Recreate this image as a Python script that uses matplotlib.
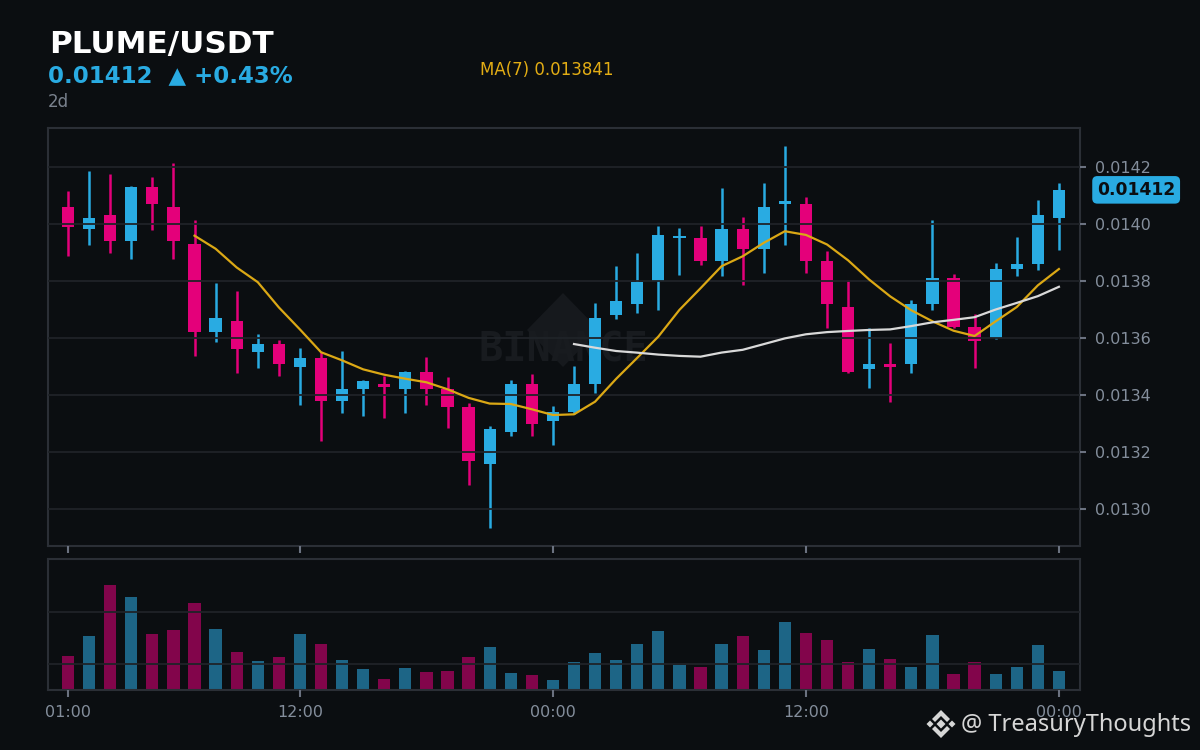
import numpy as np
import pandas as pd
import matplotlib
matplotlib.use("Agg")
from matplotlib import pyplot as plt
from matplotlib.patches import Polygon
import matplotlib.transforms as mtransforms

# hourly candles, 01:00 day 1 -> 00:00 day 3
opens = [0.014060, 0.013982, 0.014032, 0.013940, 0.014130, 0.014060, 0.013930, 0.013621,
         0.013660, 0.013551, 0.013579, 0.013499, 0.013530, 0.013380, 0.013422, 0.013439,
         0.013422, 0.013481, 0.013420, 0.013358, 0.013159, 0.013270, 0.013439, 0.013310,
         0.013341, 0.013440, 0.013681, 0.013720, 0.013801, 0.013950, 0.013951, 0.013871,
         0.013982, 0.013913, 0.014071, 0.014070, 0.013870, 0.013709, 0.013492, 0.013509,
         0.013510, 0.013720, 0.013811, 0.013639, 0.013600, 0.013843, 0.013861, 0.014022]
closes = [0.013991, 0.014021, 0.013940, 0.014130, 0.014071, 0.013940, 0.013621, 0.013670,
          0.013561, 0.013579, 0.013510, 0.013530, 0.013380, 0.013421, 0.013449, 0.013429,
          0.013481, 0.013422, 0.013359, 0.013168, 0.013281, 0.013439, 0.013299, 0.013340,
          0.013439, 0.013670, 0.013730, 0.013796, 0.013961, 0.013955, 0.013871, 0.013982,
          0.013913, 0.014060, 0.014081, 0.013871, 0.013720, 0.013482, 0.013509, 0.013499,
          0.013719, 0.013811, 0.013639, 0.013591, 0.013842, 0.013860, 0.014032, 0.014120]
highs = [0.014116, 0.014186, 0.014175, 0.014133, 0.014165, 0.014214, 0.014014, 0.013793,
         0.013765, 0.013614, 0.013593, 0.013565, 0.013552, 0.013554, 0.013453, 0.013467,
         0.013484, 0.013533, 0.013463, 0.013372, 0.013291, 0.013453, 0.013473, 0.013361,
         0.013501, 0.013722, 0.013853, 0.013898, 0.013993, 0.013986, 0.013993, 0.014126,
         0.014024, 0.014144, 0.014274, 0.014095, 0.013905, 0.013804, 0.013634, 0.013582,
         0.013732, 0.014013, 0.013824, 0.013684, 0.013863, 0.013954, 0.014084, 0.014144]
lows = [0.013889, 0.013926, 0.013899, 0.013878, 0.013980, 0.013878, 0.013538, 0.013587,
        0.013478, 0.013496, 0.013468, 0.013366, 0.013239, 0.013338, 0.013327, 0.013319,
        0.013338, 0.013365, 0.013285, 0.013084, 0.012934, 0.013257, 0.013257, 0.013226,
        0.013333, 0.013408, 0.013668, 0.013689, 0.013699, 0.013821, 0.013857, 0.013819,
        0.013787, 0.013829, 0.013927, 0.013829, 0.013636, 0.013478, 0.013426, 0.013377,
        0.013478, 0.013699, 0.013636, 0.013496, 0.013598, 0.013819, 0.013840, 0.013910]
volumes = [0.66, 1.04, 2.01, 1.78, 1.08, 1.16, 1.68, 1.18, 0.74, 0.56, 0.64, 1.08,
           0.89, 0.58, 0.41, 0.22, 0.43, 0.35, 0.37, 0.64, 0.83, 0.33, 0.28, 0.20,
           0.54, 0.72, 0.58, 0.89, 1.14, 0.49, 0.45, 0.89, 1.04, 0.76, 1.31, 1.10,
           0.97, 0.54, 0.78, 0.60, 0.45, 1.06, 0.31, 0.53, 0.31, 0.45, 0.87, 0.37]
tick_pos = [0, 11, 23, 35, 47]
tick_labels = ["01:00", "12:00", "00:00", "12:00", "00:00"]
price_ticks = [0.0130, 0.0132, 0.0134, 0.0136, 0.0138, 0.0140, 0.0142]
change_pct = 0.43
ma7_last = 0.013841  # as printed on the chart

BG = "#0b0e11"
UP = "#29abe2"
DOWN = "#e4007a"
UP_VOL = "#1d6586"
DOWN_VOL = "#82054b"
GRID = "#1f2328"
SPINE = "#2b2f36"
TXT = "#848e9c"
GOLD = "#dba815"

df = pd.DataFrame({"o": opens, "h": highs, "l": lows, "c": closes, "v": volumes})
df["ma7"] = df["c"].rolling(7).mean()
df["ma25"] = df["c"].rolling(25).mean()
x = np.arange(len(df))
up = df["c"] >= df["o"]
cols = np.where(up, UP, DOWN)
vcols = np.where(up, UP_VOL, DOWN_VOL)

plt.rcParams["font.family"] = ["DejaVu Sans"]
fig = plt.figure(figsize=(12, 7.5), dpi=100, facecolor=BG)
ax = fig.add_axes([0.04, 0.272, 0.86, 0.5573])
axv = fig.add_axes([0.04, 0.08, 0.86, 0.1747])

def px(xp, yp):
    return (xp / 1200.0, 1 - yp / 750.0)

# watermark (behind the axes)
fig.patches.append(Polygon([px(563, 293), px(599, 330), px(563, 367), px(527, 330)],
                           closed=True, transform=fig.transFigure, facecolor="#16191d",
                           edgecolor="none", zorder=-2))
fig.text(563 / 1200, 1 - 350 / 750, "BINANCE", family="DejaVu Sans Mono", weight="bold",
         fontsize=29, color="#181b1f", ha="center", va="center", zorder=-1)

for a in (ax, axv):
    a.set_facecolor("none")
    for s in a.spines.values():
        s.set_color(SPINE)
        s.set_linewidth(1.5)
    a.set_xlim(-0.95, 48.0)
    a.set_axisbelow(False)
    a.grid(axis="y", color=GRID, linewidth=1.3)
    a.grid(axis="x", visible=False)
    a.set_xticks(tick_pos)
    a.tick_params(axis="x", colors="#6b7280", length=5, width=1.5, labelcolor=TXT,
                  labelsize=11.5, pad=6)

# candles
ax.vlines(x, df["l"], df["h"], colors=cols, linewidth=1.8, zorder=2)
body_bottom = np.minimum(df["o"], df["c"])
body_h = np.maximum(np.abs(df["c"] - df["o"]), 0.000009)
ax.bar(x, body_h, bottom=body_bottom, width=0.58, color=cols, zorder=2, linewidth=0)

ax.plot(x, df["ma7"], color=GOLD, linewidth=1.6, zorder=3)
ax.plot(x, df["ma25"], color="#d9d9d9", linewidth=1.6, zorder=3)

ax.set_ylim(0.012870, 0.014337)
ax.set_yticks(price_ticks)
ax.set_yticklabels([f"{p:.4f}" for p in price_ticks])
ax.yaxis.tick_right()
ax.tick_params(axis="y", colors="#6b7280", length=4.5, width=1.5, labelcolor=TXT,
               labelsize=11.5, pad=6)
ax.set_xticklabels([])

# last price tag
trans = mtransforms.blended_transform_factory(ax.transAxes, ax.transData)
ax.text(1.0165, closes[-1], f"{closes[-1]:.5f}", transform=trans, ha="left", va="center",
        fontsize=12.3, weight="bold", color="#0b0e11", clip_on=False,
        bbox=dict(boxstyle="round,pad=0.28,rounding_size=0.3", facecolor=UP, edgecolor="none"))

# volume
axv.bar(x, df["v"], width=0.58, color=vcols, zorder=2, linewidth=0)
axv.set_ylim(0, 2.52)
axv.set_yticks([0.5, 1.5])
axv.tick_params(axis="y", length=0, labelleft=False, labelright=False)
axv.set_xticklabels(tick_labels)

# header
fig.text(49 / 1200, 1 - 44 / 750, "PLUME/USDT", fontsize=22.3, weight="bold", color="white",
         ha="left", va="center")
fig.text(48 / 1200, 1 - 76 / 750, f"{closes[-1]:.5f}  \u25b2 +{change_pct:.2f}%", fontsize=16.5,
         weight="bold", color=UP, ha="left", va="center")
fig.text(48 / 1200, 1 - 102 / 750, "2d", fontsize=12, color="#7a828e", ha="left", va="center")
fig.text(480 / 1200, 1 - 70 / 750, f"MA(7) {ma7_last:.6f}", fontsize=12,
         color="#e3ad14", ha="left", va="center")

# footer handle + logo
LOGO = "#d6d6d6"
def diamond(cx, cy, r):
    return Polygon([px(cx, cy - r), px(cx + r, cy), px(cx, cy + r), px(cx - r, cy)],
                   closed=True, transform=fig.transFigure, facecolor=LOGO, edgecolor="none")
fig.patches.append(diamond(930, 724, 3.5))
fig.patches.append(diamond(952, 724, 3.5))
fig.patches.append(diamond(941, 724, 4.5))
fig.patches.append(Polygon([px(932, 719), px(941, 710), px(950, 719), px(947, 722),
                            px(941, 716), px(935, 722)], closed=True,
                           transform=fig.transFigure, facecolor=LOGO, edgecolor="none"))
fig.patches.append(Polygon([px(932, 729), px(941, 738), px(950, 729), px(947, 726),
                            px(941, 732), px(935, 726)], closed=True,
                           transform=fig.transFigure, facecolor=LOGO, edgecolor="none"))
fig.text(1191 / 1200, 1 - 725 / 750, "@ TreasuryThoughts", family="Noto Sans", fontsize=17,
         color=LOGO, ha="right", va="center")

fig.savefig("out.png", dpi=100, facecolor=BG)
